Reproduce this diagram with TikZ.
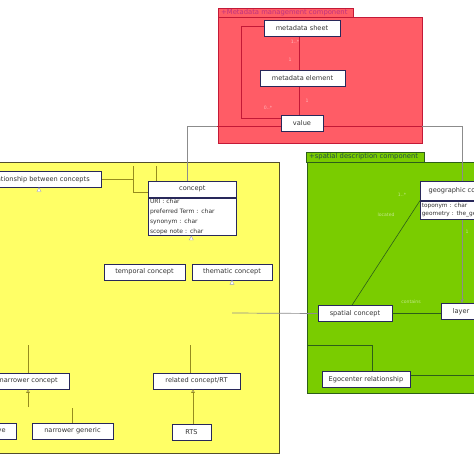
\documentclass[tikz,border=0pt]{standalone}
\usepackage{fontspec}
\setmainfont{DejaVu Sans}
\usepackage{tikz}
\usetikzlibrary{shapes, arrows.meta, positioning, calc, shadows}
\definecolor{pkgred}{RGB}{255, 92, 102}
\definecolor{pkgredline}{RGB}{195, 25, 55}
\definecolor{pkgyellow}{RGB}{255, 255, 102}
\definecolor{pkgyellowline}{RGB}{150, 140, 30}
\definecolor{pkggreen}{RGB}{122, 204, 0}
\definecolor{pkggreenline}{RGB}{45, 95, 25}
\definecolor{boxline}{RGB}{40, 40, 90}
\definecolor{linkgray}{RGB}{140, 140, 140}

\begin{document}
\begin{tikzpicture}[x=1pt, y=-1pt,
  pkg/.style={line width=0.8pt},
  cbox/.style={draw=boxline, fill=white, line width=0.6pt, minimum height=16pt, inner xsep=4pt, inner ysep=1pt, text=black!80, font=\fontsize{6.6}{8}\selectfont, drop shadow={shadow xshift=0.7pt, shadow yshift=-0.7pt, fill=boxline, opacity=0.9}},
  abox/.style={cbox, align=left, font=\fontsize{6}{10}\selectfont, inner xsep=1.5pt},
  mult/.style={font=\fontsize{4.6}{5}\selectfont, inner sep=0.5pt},
  redlink/.style={draw=pkgredline, line width=0.6pt},
  yellink/.style={draw=pkgyellowline, line width=0.6pt},
  grnlink/.style={draw=pkggreenline, line width=0.6pt},
  graylink/.style={draw=linkgray, line width=0.7pt},
  gen/.style={-{Triangle[length=3.5pt, width=3.5pt, fill=white]}},
  gentri/.style={draw=boxline!45, fill=white, line width=0.4pt},
  tabtext/.style={font=\fontsize{6.8}{8}\selectfont, anchor=west, inner sep=0pt}
]
  \useasboundingbox (0,0) rectangle (474,474);
  \clip (0,0) rectangle (474,474);

  % packages
  \draw[draw=black!55!olive, fill=pkgyellow, pkg] (-10,162) rectangle (279,453);
  \draw[draw=pkggreenline, fill=pkggreen, pkg] (306,152) rectangle (424,162);
  \draw[draw=pkggreenline, fill=pkggreen, pkg] (307,162) rectangle (490,393);
  \node[tabtext, text=pkggreenline!80!blue] (greentab) at (309,157) {+spatial description component};
  \draw[draw=pkgredline, fill=pkgred, pkg] (218,8) rectangle (353,17);
  \draw[draw=pkgredline, fill=pkgred, pkg] (218,17) rectangle (422,143);
  \node[tabtext, text=magenta!75!black] (redtab) at (221,12.5) {+Metadata management component};

  % free ends
  \coordinate (redin) at (217,126);
  \coordinate (redout) at (422,126);
  \coordinate (reltop) at (133,166);
  \coordinate (contop) at (156,166);
  \coordinate (nartop) at (28,345);
  \coordinate (narbot) at (28,407);
  \coordinate (genjoin) at (72,408);
  \coordinate (reltop2) at (190,345);
  \coordinate (themlink) at (232,313);
  \coordinate (egoleft) at (307,345);
  \coordinate (egojoin) at (372,375);
  \coordinate (egoright) at (490,375);
  \coordinate (relgen) at (39,187.5);

  % metadata management
  \node[cbox, minimum width=76pt] (sheet) at (302,28.5) {metadata sheet};
  \node[cbox, minimum width=42pt] (value) at (302,123.5) {value};
  \draw[redlink] ([yshift=2pt]sheet.west) -- ++(-22,0) |- ([yshift=5pt]value.west);
  \draw[redlink] ([xshift=-3pt]sheet.south) -- ([xshift=-3pt]value.north);
  \draw[redlink] (redin) -- (redout);
  \node[cbox, minimum width=85pt] (element) at (302.5,78) {metadata element};
  \node[cbox, minimum width=42pt] (value) at (302,123.5) {value};
  \node[mult, text=pkgred!45!white] at (295,42) {1..*};
  \node[mult, text=pkgred!45!white] at (290,60) {1};
  \node[mult, text=pkgred!45!white] at (268,108) {0..*};
  \node[mult, text=pkgred!45!white] at (307,101) {1};

  % concepts
  \node[cbox, anchor=east, inner xsep=12pt] (relation) at (102,179.5) {relationship between concepts};
  \node[cbox, minimum width=88pt, anchor=north west] (concept) at (148,181) {concept};
  \node[abox, text width=84.5pt, below=0pt of concept] (conceptattr) {URI : char\\ preferred Term : char\\ synonym : char\\ scope note : char};
  \node[cbox, minimum width=81pt] (temporal) at (144.5,272) {temporal concept};
  \node[cbox, minimum width=80pt] (thematic) at (232,272) {thematic concept};
  \node[cbox, anchor=east, inner xsep=12pt] (narrower) at (70,381) {narrower concept};
  \node[cbox, anchor=east, inner xsep=11pt] (partitive) at (17,431) {narrower partitive};
  \node[cbox, minimum width=81pt] (generic) at (72.5,431) {narrower generic};
  \node[cbox, minimum width=87pt] (related) at (196.5,381) {related concept/RT};
  \node[cbox, minimum width=39pt] (rts) at (191.5,432.5) {RTS};

  \draw[yellink] (relation.east) -| (reltop);
  \draw[yellink] (reltop) |- ([yshift=-3pt]concept.west);
  \draw[yellink] (contop) -- (contop |- concept.north);
  \draw[yellink] (nartop) -- (nartop |- narrower.north);
  \draw[yellink, gen] (narbot) -- (narbot |- narrower.south);
  \draw[yellink] (genjoin) -- (genjoin |- generic.north);
  \draw[yellink] (reltop2) -- (reltop2 |- related.north);
  \draw[yellink, gen] ([xshift=1.5pt]rts.north) -- ([xshift=1.5pt]rts.north |- related.south);
  \draw[gentri] (relgen) -- ++(-2,4) -- ++(4,0) -- cycle;
  \draw[gentri] ([xshift=-1pt]conceptattr.south) -- ++(-2,4) -- ++(4,0) -- cycle;
  \draw[gentri] (thematic.south) -- ++(-2,4) -- ++(4,0) -- cycle;

  % spatial description
  \node[cbox, minimum width=40pt] (layer) at (461,311.5) {layer};
  \draw[graylink] ([xshift=-5pt]concept.north) |- (redin);
  \draw[graylink, -{Stealth[length=4pt, width=3.5pt]}] (redout) -| ([xshift=1pt]layer.north);
  \node[cbox, minimum width=82pt, minimum height=19pt, anchor=north west] (geo) at (420,181) {geographic concept};
  \node[abox, font=\fontsize{5.8}{7.5}\selectfont, inner ysep=2.5pt, text width=79pt, below=0pt of geo] (geoattr) {toponym : char\\ geometry : the\_geom};
  \node[cbox, minimum width=74pt] (spatial) at (355,313.5) {spatial concept};
  \draw[graylink] (spatial.west) -- (themlink);
  \draw[grnlink] ([xshift=-3pt]spatial.north) -- (geo.south west);
  \draw[grnlink] (spatial.east) -- (spatial.east -| layer.west);
  \draw[grnlink] (egoleft) -| (egojoin) -- (egoright);
  \node[cbox, minimum width=88pt] (egocenter) at (366,379.5) {Egocenter relationship};
  \node[mult, text=pkggreen!45!white] at (402,195) {1..*};
  \node[mult, text=pkggreen!45!white] at (386,215) {located};
  \node[mult, text=pkggreen!45!white] at (467,232) {1};
  \node[mult, text=pkggreen!45!white] at (411,302) {contains};
\end{tikzpicture}
\end{document}
